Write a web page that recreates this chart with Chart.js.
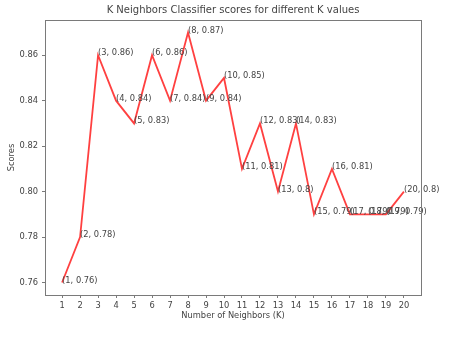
<!DOCTYPE html>
<html>
<head>
<meta charset="utf-8">
<script src="https://cdn.jsdelivr.net/npm/chart.js@4"></script>
<style>
  body { margin: 0; background: #fff; }
  #wrap { width: 459px; height: 339px; }
</style>
</head>
<body>
<div id="wrap"><canvas id="knnChart" width="459" height="339"></canvas></div>
<script>
// data
const kValues = [1, 2, 3, 4, 5, 6, 7, 8, 9, 10, 11, 12, 13, 14, 15, 16, 17, 18, 19, 20];
const scores = [0.76, 0.78, 0.86, 0.84, 0.83, 0.86, 0.84, 0.87, 0.84, 0.85, 0.81, 0.83, 0.80, 0.83, 0.79, 0.81, 0.79, 0.79, 0.79, 0.80];
const yTicks = [0.76, 0.78, 0.80, 0.82, 0.84, 0.86];

const TXT = '#444';
const SPINE = '#7a7a7a';
const FONT = 'DejaVu Sans';
const SMALL = 8.3;

// python-ish str() of a rounded float: 0.80 -> "0.8"
function pyNum(v) {
    return String(Math.round(v * 100) / 100);
}

// title, axis labels, frame and the point annotations
const decor = {
    id: 'decor',
    afterDatasetsDraw(chart) {
        const ctx = chart.ctx;
        const a = chart.chartArea;
        const xs = chart.scales.x, ys = chart.scales.y;
        ctx.save();
        ctx.fillStyle = TXT;
        ctx.font = SMALL + 'px "' + FONT + '"';
        ctx.textAlign = 'left';
        ctx.textBaseline = 'alphabetic';
        kValues.forEach((k, i) => {
            ctx.fillText('(' + k + ', ' + pyNum(scores[i]) + ')', xs.getPixelForValue(k), ys.getPixelForValue(scores[i]));
        });

        ctx.strokeStyle = SPINE;
        ctx.lineWidth = 1;
        ctx.strokeRect(Math.round(a.left) + 0.5, Math.round(a.top) + 0.5, Math.round(a.right - a.left), Math.round(a.bottom - a.top));

        ctx.font = '10px "' + FONT + '"';
        ctx.textAlign = 'center';
        ctx.textBaseline = 'middle';
        ctx.fillText('K Neighbors Classifier scores for different K values', (a.left + a.right) / 2, 10);

        ctx.font = SMALL + 'px "' + FONT + '"';
        ctx.fillText('Number of Neighbors (K)', (a.left + a.right) / 2, 316);

        ctx.translate(12, (a.top + a.bottom) / 2);
        ctx.rotate(-Math.PI / 2);
        ctx.fillText('Scores', 0, 0);
        ctx.restore();
    }
};

new Chart(document.getElementById('knnChart'), {
    type: 'line',
    data: {
        datasets: [{
            data: kValues.map((k, i) => ({ x: k, y: scores[i] })),
            borderColor: 'rgba(255, 30, 30, 0.85)',
            borderWidth: 1.8,
            pointRadius: 0,
            tension: 0,
            fill: false
        }]
    },
    options: {
        responsive: false,
        animation: false,
        layout: { padding: { top: 20, right: 38, left: 0, bottom: 0 } },
        plugins: { legend: { display: false }, tooltip: { enabled: false } },
        scales: {
            x: {
                type: 'linear',
                min: 0.05,
                max: 20.95,
                afterBuildTicks: (axis) => { axis.ticks = kValues.map(v => ({ value: v })); },
                afterFit: (axis) => { axis.height = 44; },
                grid: { drawOnChartArea: false, color: SPINE, tickLength: 3 },
                border: { color: SPINE },
                ticks: { color: TXT, font: { family: FONT, size: SMALL }, padding: 3, maxRotation: 0, autoSkip: false }
            },
            y: {
                type: 'linear',
                min: 0.7545,
                max: 0.8755,
                afterBuildTicks: (axis) => { axis.ticks = yTicks.map(v => ({ value: v })); },
                afterFit: (axis) => { axis.width = 45; },
                grid: { drawOnChartArea: false, color: SPINE, tickLength: 3 },
                border: { color: SPINE },
                ticks: { color: TXT, font: { family: FONT, size: SMALL }, padding: 4, callback: (v) => v.toFixed(2) }
            }
        }
    },
    plugins: [decor]
});
</script>
</body>
</html>
